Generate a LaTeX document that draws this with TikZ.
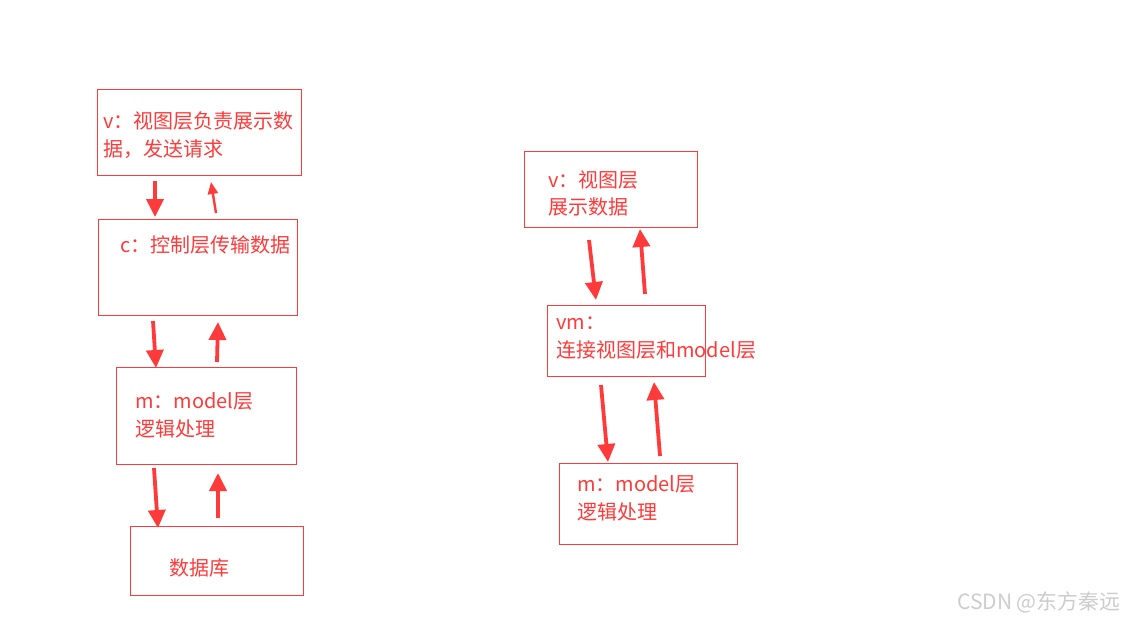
\documentclass[tikz,border=0pt]{standalone}
\usepackage{fontspec}
\setmainfont{Noto Sans CJK SC}
\usetikzlibrary{arrows.meta}
\definecolor{rd}{RGB}{255,58,58}
\definecolor{wm}{RGB}{205,205,205}
\tikzset{
  box/.style={draw=rd, line width=1pt, inner sep=0pt, outer sep=0pt},
  txt/.style={anchor=base west, inner sep=0pt, text=rd, font=\fontsize{20}{28}\selectfont},
  bigarr/.style={draw=rd, line width=3.8pt, -{Triangle[length=18pt,width=17pt]}},
  smallarr/.style={draw=rd, line width=2.4pt, -{Triangle[length=12pt,width=10pt]}},
}
\begin{document}
\begin{tikzpicture}[x=1pt,y=-1pt]
\useasboundingbox (0,0) rectangle (1131,621);
\fill[white] (0,0) rectangle (1131,621);
% boxes
\node[box, minimum width=204pt, minimum height=86pt] (v1) at (199,132) {};
\node[box, minimum width=199pt, minimum height=96pt] (c) at (197.5,267) {};
\node[box, minimum width=180pt, minimum height=97pt] (m1) at (206,415.5) {};
\node[box, minimum width=173pt, minimum height=69pt] (db) at (216.5,560.5) {};
\node[box, minimum width=173pt, minimum height=76pt] (v2) at (610.5,189) {};
\node[box, minimum width=158pt, minimum height=71pt] (vm) at (626,340.5) {};
\node[box, minimum width=178pt, minimum height=81pt] (m2) at (648,503.5) {};
% texts
\node[txt] (t1) at (103,128) {v：视图层负责展示数};
\node[txt] (t2) at (103,156) {据，发送请求};
\node[txt] (t3) at (120,252) {c：控制层传输数据};
\node[txt] (t4) at (135,408) {m：model层};
\node[txt] (t5) at (135,436) {逻辑处理};
\node[txt] (t6) at (169,575) {数据库};
\node[txt] (t7) at (548,187) {v：视图层};
\node[txt] (t8) at (548,214) {展示数据};
\node[txt] (t9) at (556,329) {vm：};
\node[txt] (t10) at (556,357) {连接视图层和model层};
\node[txt] (t11) at (577,491) {m：model层};
\node[txt] (t12) at (577,519) {逻辑处理};
\node[anchor=base west, inner sep=0pt, text=wm, font=\fontsize{21}{24}\selectfont] (wmk) at (957,609) {CSDN @东方秦远};
% arrow end points
\coordinate (a1s) at (155,181); \coordinate (a1e) at (155,217);
\coordinate (b1s) at (216,213); \coordinate (b1e) at (211,182);
\coordinate (a2s) at (153,321); \coordinate (a2e) at (156,368);
\coordinate (b2s) at (217,362); \coordinate (b2e) at (218,322);
\coordinate (a3s) at (154,468); \coordinate (a3e) at (158,528);
\coordinate (b3s) at (218,518); \coordinate (b3e) at (218,473);
\coordinate (a4s) at (589,240); \coordinate (a4e) at (596,300);
\coordinate (b4s) at (645,294); \coordinate (b4e) at (640,229);
\coordinate (a5s) at (601,385); \coordinate (a5e) at (608,462);
\coordinate (b5s) at (660,456); \coordinate (b5e) at (654,382);
% arrows
\draw[bigarr] (a1s) -- (a1e);
\draw[smallarr] (b1s) -- (b1e);
\draw[bigarr] (a2s) -- (a2e);
\draw[bigarr] (b2s) -- (b2e);
\draw[bigarr] (a3s) -- (a3e);
\draw[bigarr] (b3s) -- (b3e);
\draw[bigarr] (a4s) -- (a4e);
\draw[bigarr] (b4s) -- (b4e);
\draw[bigarr] (a5s) -- (a5e);
\draw[bigarr] (b5s) -- (b5e);
\end{tikzpicture}
\end{document}
